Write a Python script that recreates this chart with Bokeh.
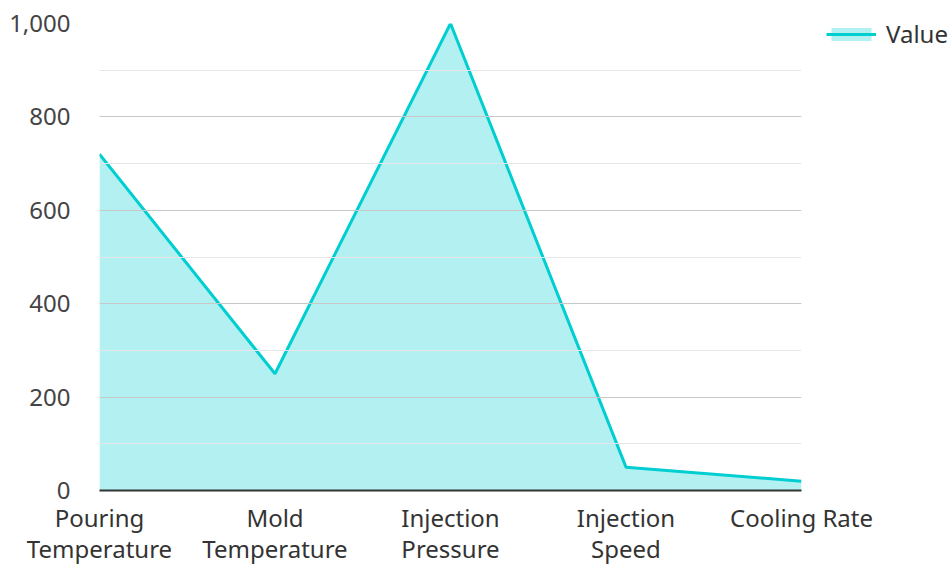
from bokeh.plotting import figure
from bokeh.models import Range1d, NumeralTickFormatter, Legend, LegendItem, SingleIntervalTicker, FixedTicker, LinearAxis
from bokeh.embed import file_html
from bokeh.resources import INLINE

categories = ["Pouring\nTemperature", "Mold\nTemperature", "Injection\nPressure", "Injection\nSpeed", "Cooling Rate"]
values = [720, 250, 1000, 50, 20]
series_name = "Value"

FONT = "Noto Sans"
LINE = "#00CED1"
FS = "24px"

xs = list(range(len(categories)))
line1 = {i: c.split("\n")[0] for i, c in enumerate(categories)}
line2 = {i: (c.split("\n")[1] if "\n" in c else "") for i, c in enumerate(categories)}

p = figure(frame_width=702, frame_height=467, output_backend="svg", toolbar_location=None,
           x_range=Range1d(0, len(categories) - 1), y_range=Range1d(0, 1000),
           x_axis_location=None,
           min_border_left=99, min_border_right=150, min_border_top=23, min_border_bottom=74)
p.outline_line_color = None
p.background_fill_color = "white"
p.border_fill_color = "white"

area = p.varea(x=xs, y1=[0] * len(values), y2=values, fill_color=LINE, fill_alpha=0.3)
ln = p.line(x=xs, y=values, line_color=LINE, line_width=3)

p.xgrid.grid_line_color = None
p.ygrid.grid_line_color = "#c8c8c8"
p.ygrid.minor_grid_line_color = "#e6e6e6"
p.ygrid.level = "glyph"
p.yaxis.ticker = SingleIntervalTicker(interval=200, num_minor_ticks=2)
p.yaxis.formatter = NumeralTickFormatter(format="0,0")
p.yaxis.axis_line_color = None
p.yaxis.major_tick_line_color = None
p.yaxis.minor_tick_line_color = None
p.yaxis.major_label_standoff = 23
p.yaxis.major_label_text_font = FONT
p.yaxis.major_label_text_font_size = FS
p.yaxis.major_label_text_color = "#444444"

for overrides, standoff, with_line in ((line1, 4, True), (line2, -11, False)):
    ax = LinearAxis(ticker=FixedTicker(ticks=xs), major_label_overrides=overrides)
    ax.axis_line_color = "#333333" if with_line else None
    ax.axis_line_width = 2
    ax.major_tick_line_color = None
    ax.minor_tick_line_color = None
    ax.major_label_standoff = standoff
    ax.major_label_text_font = FONT
    ax.major_label_text_font_size = FS
    ax.major_label_text_color = "#333333"
    p.add_layout(ax, "below")

legend = Legend(items=[LegendItem(label=series_name, renderers=[area, ln])],
                location=(25, 440), orientation="vertical",
                background_fill_alpha=0, border_line_color=None,
                label_text_font=FONT, label_text_font_size=FS, label_text_color="#333333",
                glyph_width=50, glyph_height=16, padding=0, margin=0, label_standoff=10)
p.add_layout(legend, "right")

open("out.html", "w").write(file_html(p, INLINE))
